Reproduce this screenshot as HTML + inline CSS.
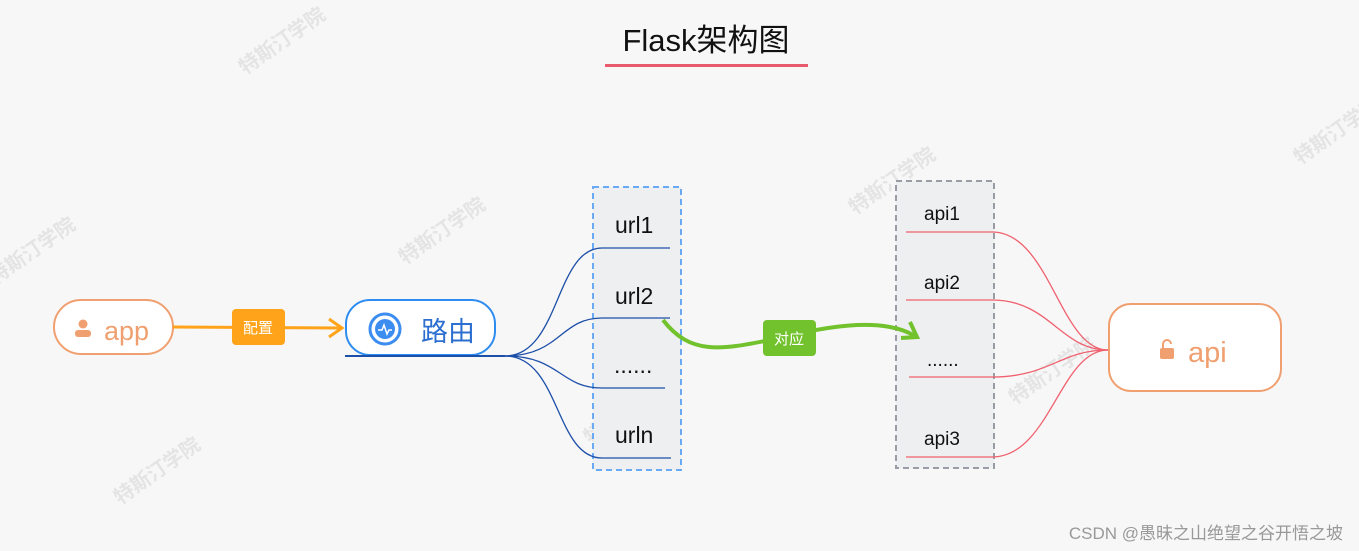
<!DOCTYPE html>
<html><head><meta charset="utf-8"><style>
html,body{margin:0;padding:0;background:#f7f7f7;}
svg{display:block;font-family:"Liberation Sans","Noto Sans CJK SC",sans-serif;}
</style></head><body>
<svg width="1359" height="551" viewBox="0 0 1359 551" xmlns="http://www.w3.org/2000/svg">
<rect width="1359" height="551" fill="#f7f7f7"/>
<g fill="#e4e4e4" font-size="20" font-weight="bold">
<text transform="translate(245,75) rotate(-35)">特斯汀学院</text>
<text transform="translate(-5,285) rotate(-35)">特斯汀学院</text>
<text transform="translate(405,265) rotate(-35)">特斯汀学院</text>
<text transform="translate(855,215) rotate(-35)">特斯汀学院</text>
<text transform="translate(1300,165) rotate(-35)">特斯汀学院</text>
<text transform="translate(120,505) rotate(-35)">特斯汀学院</text>
<text transform="translate(590,445) rotate(-35)">特斯汀学院</text>
<text transform="translate(1015,405) rotate(-35)">特斯汀学院</text>
</g>
<text x="706" y="51" text-anchor="middle" font-size="31" fill="#111">Flask架构图</text>
<rect x="605" y="64" width="203" height="3" fill="#e85a6c"/>
<!-- app -->
<rect x="54" y="300" width="119" height="54" rx="27" fill="#fff" stroke="#f0a070" stroke-width="2"/>
<circle cx="83" cy="324" r="4.5" fill="#f0a070"/><rect x="75" y="330" width="16" height="7" rx="3" fill="#f0a070"/>
<text x="104" y="340" font-size="27" fill="#f0a070">app</text>
<line x1="173" y1="327" x2="340" y2="328" stroke="#ffa31a" stroke-width="3"/>
<polyline points="329,319 342,328 329,337" fill="none" stroke="#ffa31a" stroke-width="3"/>
<rect x="232" y="309" width="53" height="36" rx="4" fill="#ffa31a"/>
<text x="258" y="333" font-size="15" fill="#fff" text-anchor="middle">配置</text>
<!-- route -->
<rect x="346" y="300" width="149" height="55" rx="24" fill="#fff" stroke="#2d8cf0" stroke-width="2"/>
<line x1="345" y1="356" x2="505" y2="356" stroke="#1c4fa8" stroke-width="2"/>
<circle cx="385" cy="329" r="15" fill="#fff" stroke="#3b8df0" stroke-width="3"/>
<circle cx="385" cy="329" r="10" fill="#3b8df0"/>
<polyline points="378,330 382,330 384,325 387,334 389,330 392,330" fill="none" stroke="#fff" stroke-width="1.5"/>
<text x="421" y="341" font-size="27" fill="#2d6fd0">路由</text>
<!-- url box -->
<rect x="593" y="187" width="88" height="283" fill="#eeeff1" stroke="#6aaaf5" stroke-width="2" stroke-dasharray="6,4"/>
<g fill="none" stroke="#1c4fa8" stroke-width="1.3">
<path d="M505,356 C560,356 555,248 602,248 L670,248"/>
<path d="M505,356 C560,356 560,318 602,318 L670,318"/>
<path d="M505,356 C560,356 560,388 602,388 L665,388"/>
<path d="M505,356 C560,356 555,458 602,458 L671,458"/>
</g>
<g font-size="23" fill="#111">
<text x="615" y="233">url1</text><text x="615" y="304">url2</text>
<text x="614" y="373">......</text><text x="615" y="443">urln</text>
</g>
<!-- api box -->
<rect x="896" y="181" width="98" height="287" fill="#eeeff1" stroke="#999ca4" stroke-width="2" stroke-dasharray="6,4"/>
<g fill="none" stroke="#f0606e" stroke-width="1.3">
<path d="M906,232 L992,232 C1050,232 1060,350 1108,350"/>
<path d="M906,300 L992,300 C1050,300 1060,350 1108,350"/>
<path d="M909,377 L992,377 C1050,377 1060,350 1108,350"/>
<path d="M906,457 L992,457 C1050,457 1060,350 1108,350"/>
</g>
<g font-size="19" fill="#111">
<text x="924" y="220">api1</text><text x="924" y="289">api2</text>
<text x="927" y="366">......</text><text x="924" y="445">api3</text>
</g>
<!-- green arrow -->
<path d="M663,320 C690,355 720,350 770,340 C820,328 880,315 915,336" fill="none" stroke="#72c22d" stroke-width="4"/>
<polyline points="910,322 917,337 901,338" fill="none" stroke="#72c22d" stroke-width="4"/>
<rect x="763" y="320" width="53" height="36" rx="4" fill="#72c22d"/>
<text x="789" y="344" font-size="15" fill="#fff" text-anchor="middle">对应</text>
<!-- api node -->
<rect x="1109" y="304" width="172" height="87" rx="22" fill="#fff" stroke="#f0a070" stroke-width="2"/>
<rect x="1160" y="348" width="14" height="11" rx="2" fill="#f0a070"/>
<path d="M1163,348 v-4 a4,4 0 0 1 8,0" fill="none" stroke="#f0a070" stroke-width="2"/>
<text x="1188" y="362" font-size="29" fill="#f0a070">api</text>
<text x="1343" y="539" text-anchor="end" font-size="17" fill="#999">CSDN @愚昧之山绝望之谷开悟之坡</text>
</svg>
</body></html>
